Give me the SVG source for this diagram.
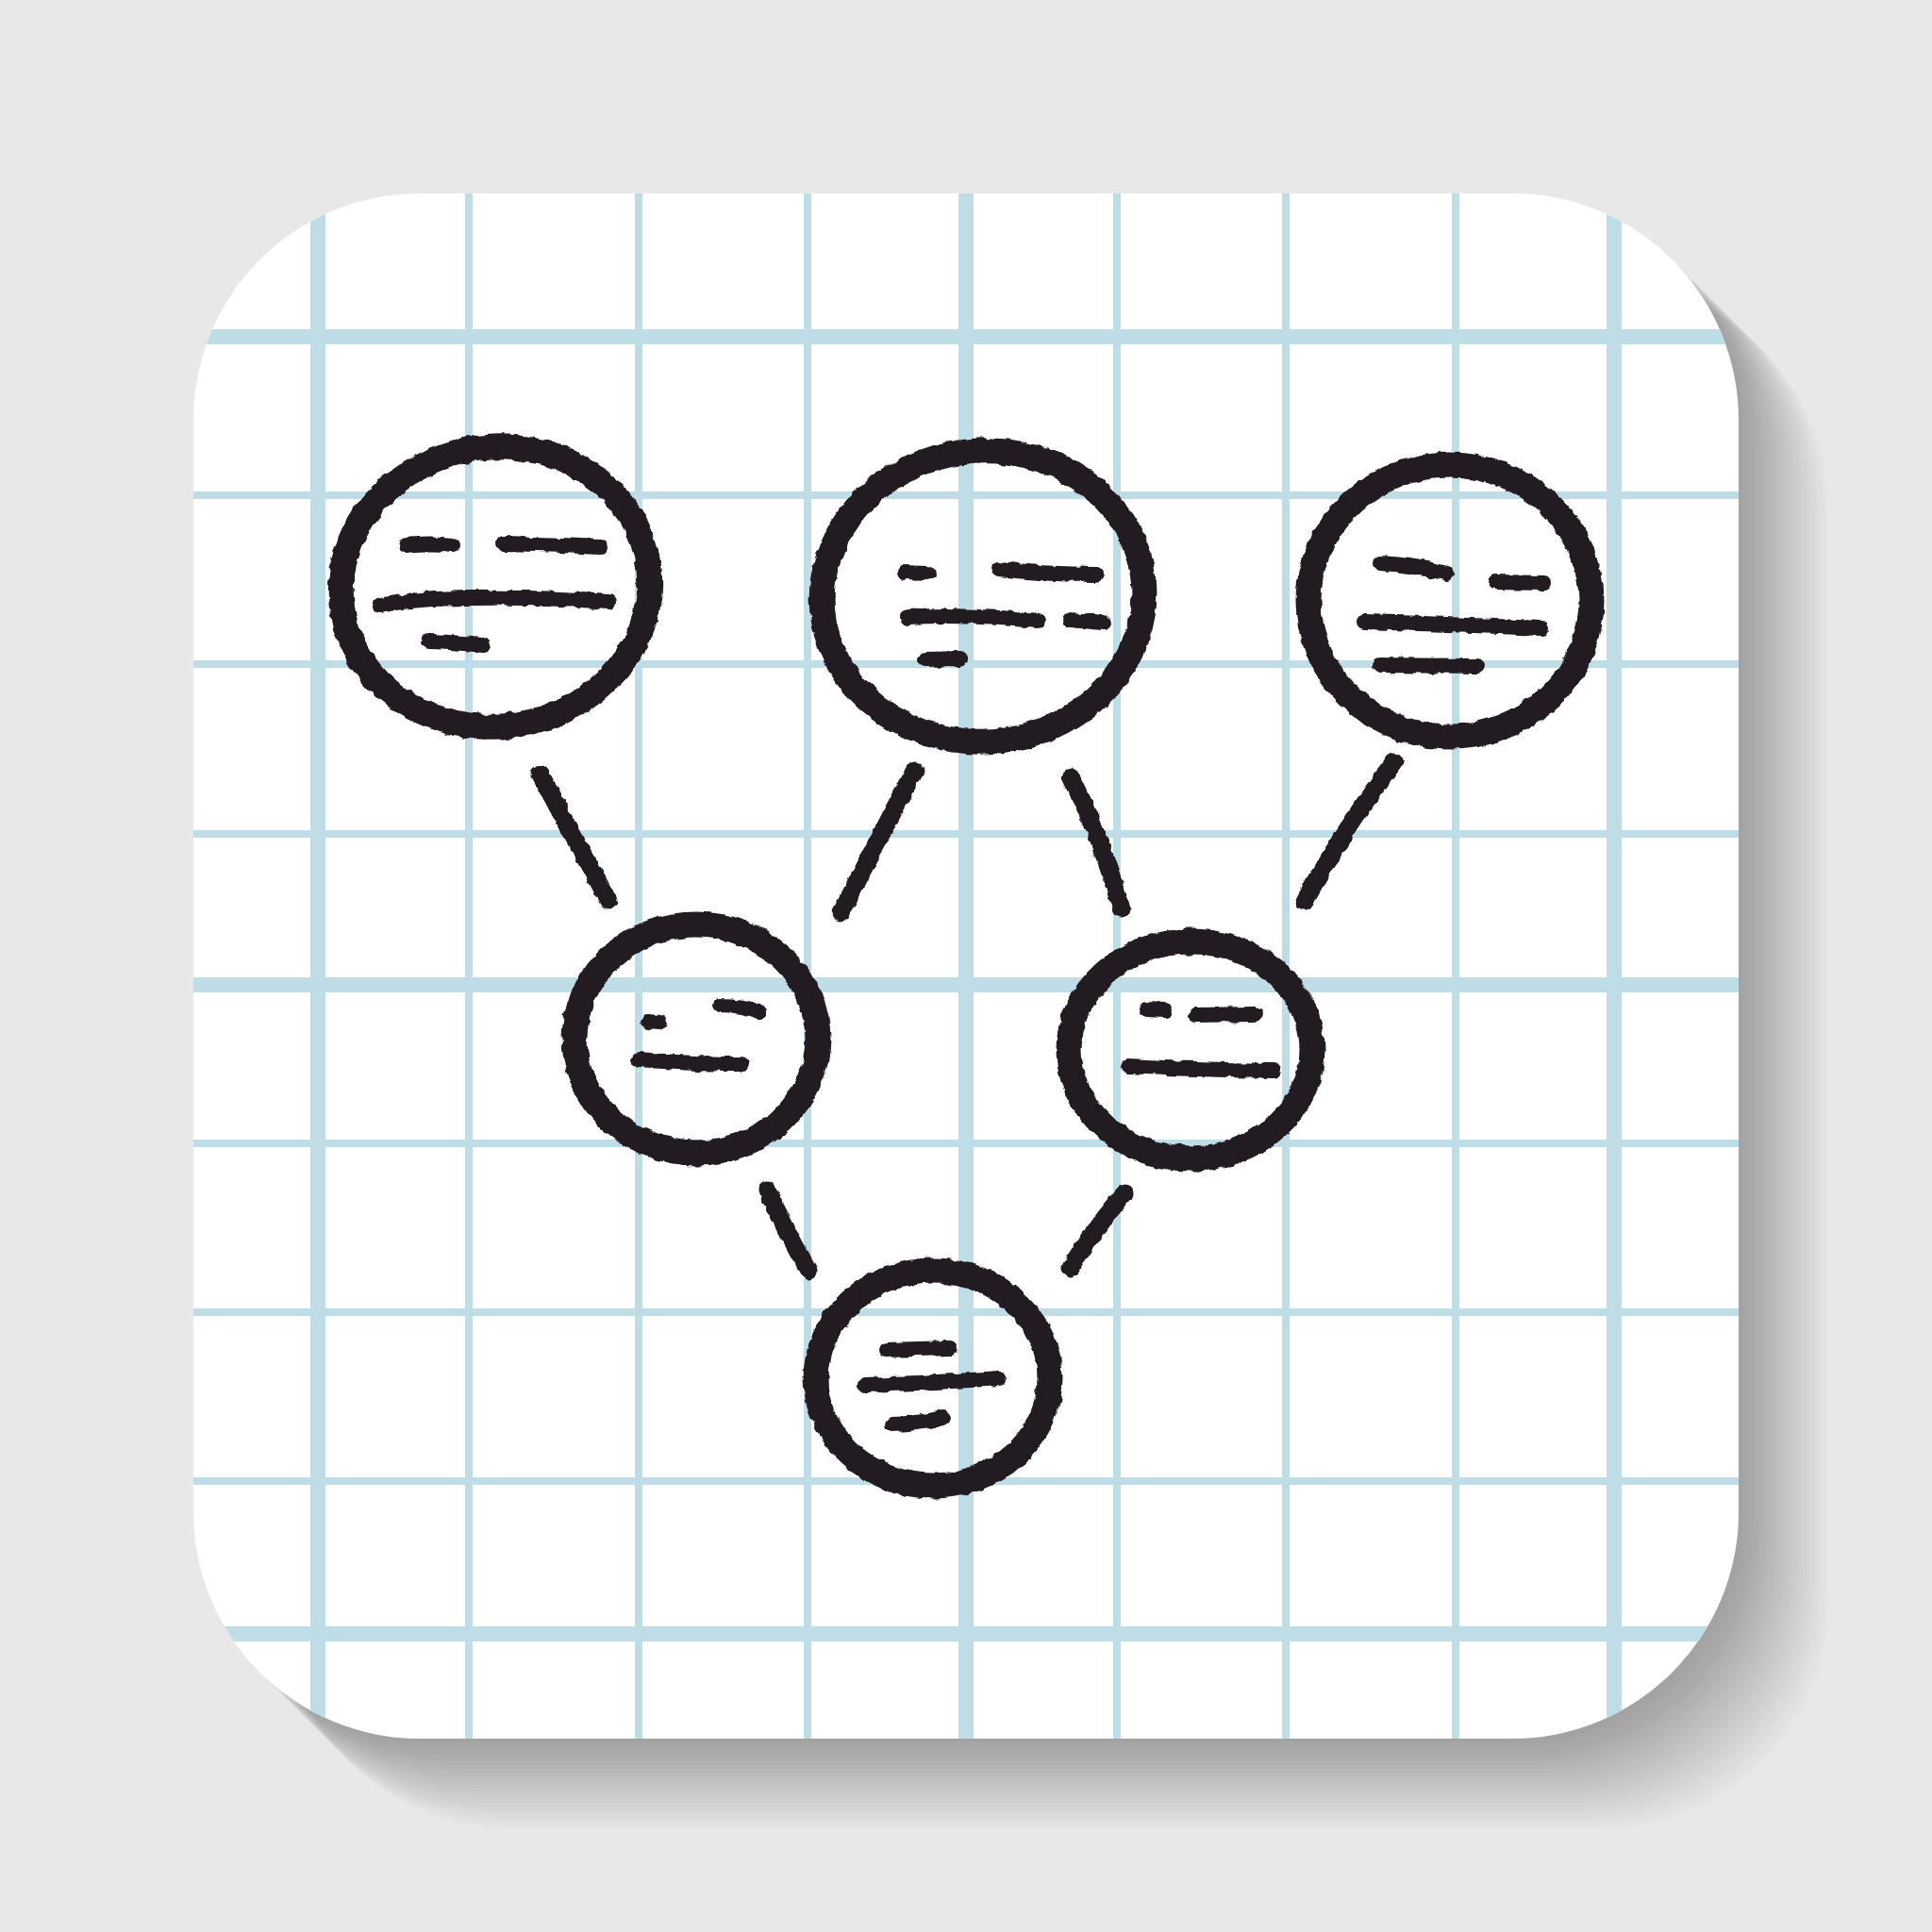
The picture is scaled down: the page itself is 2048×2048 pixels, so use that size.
<svg xmlns="http://www.w3.org/2000/svg" width="2048" height="2048" viewBox="0 0 2048 2048">
<defs>
<clipPath id="card"><rect x="205" y="205" width="1638" height="1638" rx="240" ry="240"/></clipPath>
<filter id="rough" x="-10%" y="-10%" width="120%" height="120%">
<feTurbulence type="fractalNoise" baseFrequency="0.09" numOctaves="2" seed="4" result="n"/>
<feDisplacementMap in="SourceGraphic" in2="n" scale="6" xChannelSelector="R" yChannelSelector="G"/>
</filter>
<style>
.sh{fill:#1a1c24;fill-opacity:0.013}
.thin{stroke:#bfdde7;stroke-width:8}
.thick{stroke:#bfdde7;stroke-width:16}
.ring{fill:none;stroke:#231f20;stroke-width:27}
.dash{fill:none;stroke:#231f20;stroke-width:16;stroke-linecap:round}
.conn{fill:none;stroke:#231f20;stroke-width:19;stroke-linecap:round}
</style>
</defs>
<rect width="2048" height="2048" fill="#e8e8e8"/>
<g id="shadow">
<rect class="sh" x="209" y="209" width="1638" height="1638" rx="240"/>
<rect class="sh" x="213" y="213" width="1638" height="1638" rx="240"/>
<rect class="sh" x="217" y="217" width="1638" height="1638" rx="240"/>
<rect class="sh" x="221" y="221" width="1638" height="1638" rx="240"/>
<rect class="sh" x="225" y="225" width="1638" height="1638" rx="240"/>
<rect class="sh" x="229" y="229" width="1638" height="1638" rx="240"/>
<rect class="sh" x="233" y="233" width="1638" height="1638" rx="240"/>
<rect class="sh" x="237" y="237" width="1638" height="1638" rx="240"/>
<rect class="sh" x="241" y="241" width="1638" height="1638" rx="240"/>
<rect class="sh" x="245" y="245" width="1638" height="1638" rx="240"/>
<rect class="sh" x="249" y="249" width="1638" height="1638" rx="240"/>
<rect class="sh" x="253" y="253" width="1638" height="1638" rx="240"/>
<rect class="sh" x="257" y="257" width="1638" height="1638" rx="240"/>
<rect class="sh" x="261" y="261" width="1638" height="1638" rx="240"/>
<rect class="sh" x="265" y="265" width="1638" height="1638" rx="240"/>
<rect class="sh" x="269" y="269" width="1638" height="1638" rx="240"/>
<rect class="sh" x="273" y="273" width="1638" height="1638" rx="240"/>
<rect class="sh" x="277" y="277" width="1638" height="1638" rx="240"/>
<rect class="sh" x="281" y="281" width="1638" height="1638" rx="240"/>
<rect class="sh" x="285" y="285" width="1638" height="1638" rx="240"/>
<rect class="sh" x="289" y="289" width="1638" height="1638" rx="240"/>
<rect class="sh" x="293" y="293" width="1638" height="1638" rx="240"/>
<rect class="sh" x="297" y="297" width="1638" height="1638" rx="240"/>
<rect class="sh" x="301" y="301" width="1638" height="1638" rx="240"/>
</g>
<rect id="card-face" x="205" y="205" width="1638" height="1638" rx="240" ry="240" fill="#ffffff"/>
<g id="grid" clip-path="url(#card)">
<line class="thin" x1="497" y1="0" x2="497" y2="2048"/>
<line class="thin" x1="677" y1="0" x2="677" y2="2048"/>
<line class="thin" x1="856" y1="0" x2="856" y2="2048"/>
<line class="thin" x1="1184" y1="0" x2="1184" y2="2048"/>
<line class="thin" x1="1363" y1="0" x2="1363" y2="2048"/>
<line class="thin" x1="1543" y1="0" x2="1543" y2="2048"/>
<line class="thin" x1="0" y1="525" x2="2048" y2="525"/>
<line class="thin" x1="0" y1="704" x2="2048" y2="704"/>
<line class="thin" x1="0" y1="884" x2="2048" y2="884"/>
<line class="thin" x1="0" y1="1212" x2="2048" y2="1212"/>
<line class="thin" x1="0" y1="1391" x2="2048" y2="1391"/>
<line class="thin" x1="0" y1="1570" x2="2048" y2="1570"/>
<line class="thick" x1="337" y1="0" x2="337" y2="2048"/>
<line class="thick" x1="1024" y1="0" x2="1024" y2="2048"/>
<line class="thick" x1="1711" y1="0" x2="1711" y2="2048"/>
<line class="thick" x1="0" y1="357" x2="2048" y2="357"/>
<line class="thick" x1="0" y1="1044" x2="2048" y2="1044"/>
<line class="thick" x1="0" y1="1732" x2="2048" y2="1732"/>
</g>
<g id="connectors" filter="url(#rough)">
<path class="conn" d="M573,821 Q604,880 645,955"/>
<path class="conn" d="M970,817 Q936,880 891,968"/>
<path class="conn" d="M1136,825 Q1166,885 1189,964"/>
<path class="conn" d="M1478,808 Q1430,870 1383,955"/>
<path class="conn" d="M813,1262 Q834,1305 857,1347"/>
<path class="conn" d="M1192,1265 Q1162,1300 1135,1344"/>
</g>
<g id="node-1" filter="url(#rough)">
<ellipse class="ring" cx="525" cy="622" rx="164" ry="148" transform="rotate(-8 525 622)"/>
<path class="dash" d="M431,578 Q455,575 480,578"/>
<path class="dash" d="M534,576 Q585,577 636,580"/>
<path class="dash" d="M403,642 Q440,634 500,634 Q580,633 645,638"/>
<path class="dash" d="M455,680 Q485,681 512,684"/>
</g>
<g id="node-2" filter="url(#rough)">
<ellipse class="ring" cx="1042" cy="632" rx="171" ry="154" transform="rotate(-5 1042 632)"/>
<path class="dash" d="M958,607 L983,608"/>
<path class="dash" d="M1059,603 Q1110,609 1162,609"/>
<path class="dash" d="M962,654 Q1030,651 1101,658"/>
<path class="dash" d="M1134,657 L1170,660"/>
<path class="dash" d="M981,699 L1018,698"/>
</g>
<g id="node-3" filter="url(#rough)">
<ellipse class="ring" cx="1537" cy="637" rx="150" ry="144"/>
<path class="dash" d="M1463,597 Q1500,599 1534,608"/>
<path class="dash" d="M1586,617 L1636,618"/>
<path class="dash" d="M1446,659 Q1540,662 1634,666"/>
<path class="dash" d="M1463,705 L1566,706"/>
</g>
<g id="node-4" filter="url(#rough)">
<ellipse class="ring" cx="738" cy="1101" rx="129" ry="121"/>
<path class="dash" d="M687,1083 L699,1084"/>
<path class="dash" d="M763,1066 Q786,1066 805,1073"/>
<path class="dash" d="M677,1123 Q730,1128 786,1128"/>
</g>
<g id="node-5" filter="url(#rough)">
<ellipse class="ring" cx="1262" cy="1113" rx="129" ry="115"/>
<path class="dash" d="M1216,1070 L1235,1071"/>
<path class="dash" d="M1268,1076 L1330,1075"/>
<path class="dash" d="M1196,1130 Q1270,1134 1350,1135"/>
</g>
<g id="node-6" filter="url(#rough)">
<ellipse class="ring" cx="989" cy="1461" rx="124" ry="114"/>
<path class="dash" d="M940,1431 L1007,1429"/>
<path class="dash" d="M917,1468 Q990,1466 1059,1461"/>
<path class="dash" d="M946,1510 Q975,1509 999,1503"/>
</g>
</svg>
